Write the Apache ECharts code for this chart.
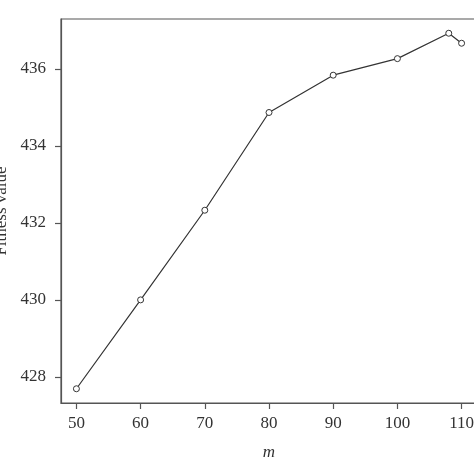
<!DOCTYPE html>
<html><head><meta charset="utf-8">
<script src="https://cdn.jsdelivr.net/npm/echarts@6/dist/echarts.min.js"></script>
<style>html,body{margin:0;padding:0;background:#fff}#c{width:474px;height:474px}</style>
</head><body><div id="c"></div>
<script>
const mValues = [50, 60, 70, 80, 90, 100, 108, 110];
const fitness = [427.69, 430.0, 432.33, 434.87, 435.84, 436.27, 436.93, 436.67];
const xTicks = [50, 60, 70, 80, 90, 100, 110];
const yTicks = [428, 430, 432, 434, 436];

const chart = echarts.init(document.getElementById('c'));
const font = "'Liberation Serif', 'DejaVu Serif', serif";
const axisCol = '#555';
chart.setOption({
  animation: false,
  grid: { left: 61, top: 19, width: 416, height: 384, show: true, borderColor: axisCol, borderWidth: 1.2, containLabel: false, outerBoundsMode: 'none' },
  xAxis: {
    type: 'value', min: 47.6, max: 112.4,
    name: 'm', nameLocation: 'middle', nameGap: 41,
    nameTextStyle: { fontFamily: font, fontSize: 17, fontStyle: 'italic', color: '#333' },
    axisLine: { show: true, lineStyle: { color: axisCol, width: 1.2 } },
    axisTick: { show: true, length: 6, customValues: xTicks, lineStyle: { color: axisCol, width: 1.2 } },
    axisLabel: { customValues: xTicks, margin: 12, fontFamily: font, fontSize: 17, color: '#333' },
    splitLine: { show: false }
  },
  yAxis: {
    type: 'value', min: 427.32, max: 437.3,
    name: 'Fitness value', nameLocation: 'middle', nameGap: 50, nameRotate: 90,
    nameTextStyle: { fontFamily: font, fontSize: 17, color: '#333' },
    axisLine: { show: true, lineStyle: { color: axisCol, width: 1.2 } },
    axisTick: { show: true, length: 6, customValues: yTicks, lineStyle: { color: axisCol, width: 1.2 } },
    axisLabel: { customValues: yTicks, margin: 15, fontFamily: font, fontSize: 17, color: '#333' },
    splitLine: { show: false }
  },
  series: [{
    type: 'line',
    data: mValues.map((m, i) => [m, fitness[i]]),
    symbol: 'circle', symbolSize: 6, showSymbol: true,
    itemStyle: { color: '#fff', borderColor: '#333', borderWidth: 1 },
    lineStyle: { color: '#333', width: 1.2 }
  }]
});
</script></body></html>
